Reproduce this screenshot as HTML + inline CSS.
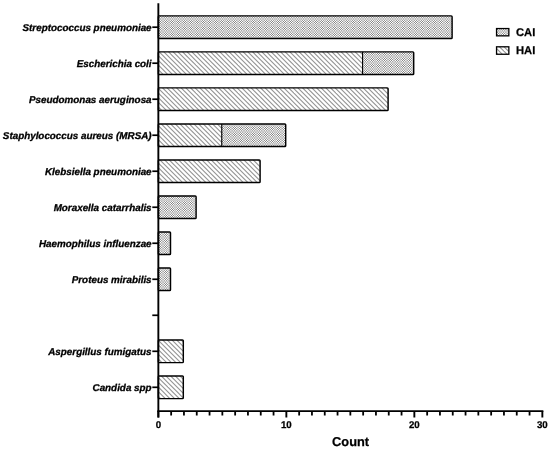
<!DOCTYPE html>
<html><head><meta charset="utf-8"><title>Count</title>
<style>html,body{margin:0;padding:0;background:#fff}svg{display:block}
text{font-family:"Liberation Sans",Arial,sans-serif;font-weight:bold;fill:#000;text-rendering:geometricPrecision;stroke:#000;stroke-width:0.25px}
.yl{font-style:italic;font-size:9.85px;text-anchor:end;stroke:#000;stroke-width:0.3px}
.xl{font-size:9.7px;text-anchor:middle}
.lg{font-size:11.2px}
.ti{font-size:12.8px;text-anchor:middle}
</style></head><body>
<svg width="550" height="449" viewBox="0 0 550 449">
<defs>
<pattern id="dots" width="25" height="25" patternUnits="userSpaceOnUse" shape-rendering="crispEdges"><rect x="0" y="0" width="1" height="1" fill="#cdcdcd"/><rect x="0" y="1" width="1" height="1" fill="#c6c6c6"/><rect x="0" y="2" width="1" height="1" fill="#d5d5d5"/><rect x="0" y="3" width="1" height="1" fill="#c2c2c2"/><rect x="0" y="4" width="1" height="1" fill="#d5d5d5"/><rect x="0" y="5" width="1" height="1" fill="#c7c7c7"/><rect x="0" y="6" width="1" height="1" fill="#cccccc"/><rect x="0" y="7" width="1" height="1" fill="#d1d1d1"/><rect x="0" y="8" width="1" height="1" fill="#c3c3c3"/><rect x="0" y="9" width="1" height="1" fill="#d6d6d6"/><rect x="0" y="10" width="1" height="1" fill="#c3c3c3"/><rect x="0" y="11" width="1" height="1" fill="#d2d2d2"/><rect x="0" y="12" width="1" height="1" fill="#cbcbcb"/><rect x="0" y="13" width="1" height="1" fill="#c8c8c8"/><rect x="0" y="14" width="1" height="1" fill="#d4d4d4"/><rect x="0" y="15" width="1" height="1" fill="#c2c2c2"/><rect x="0" y="16" width="1" height="1" fill="#d6d6d6"/><rect x="0" y="17" width="1" height="1" fill="#c5c5c5"/><rect x="0" y="18" width="1" height="1" fill="#cfcfcf"/><rect x="0" y="19" width="1" height="1" fill="#cfcfcf"/><rect x="0" y="20" width="1" height="1" fill="#c5c5c5"/><rect x="0" y="21" width="1" height="1" fill="#d6d6d6"/><rect x="0" y="22" width="1" height="1" fill="#c2c2c2"/><rect x="0" y="23" width="1" height="1" fill="#d4d4d4"/><rect x="0" y="24" width="1" height="1" fill="#c8c8c8"/><rect x="1" y="0" width="1" height="1" fill="#c6c6c6"/><rect x="1" y="1" width="1" height="1" fill="#e8e8e8"/><rect x="1" y="2" width="1" height="1" fill="#a0a0a0"/><rect x="1" y="3" width="1" height="1" fill="#fcfcfc"/><rect x="1" y="4" width="1" height="1" fill="#a3a3a3"/><rect x="1" y="5" width="1" height="1" fill="#e3e3e3"/><rect x="1" y="6" width="1" height="1" fill="#cccccc"/><rect x="1" y="7" width="1" height="1" fill="#b5b5b5"/><rect x="1" y="8" width="1" height="1" fill="#f5f5f5"/><rect x="1" y="9" width="1" height="1" fill="#9c9c9c"/><rect x="1" y="10" width="1" height="1" fill="#f8f8f8"/><rect x="1" y="11" width="1" height="1" fill="#b0b0b0"/><rect x="1" y="12" width="1" height="1" fill="#d2d2d2"/><rect x="1" y="13" width="1" height="1" fill="#dedede"/><rect x="1" y="14" width="1" height="1" fill="#a7a7a7"/><rect x="1" y="15" width="1" height="1" fill="#fbfbfb"/><rect x="1" y="16" width="1" height="1" fill="#9e9e9e"/><rect x="1" y="17" width="1" height="1" fill="#ededed"/><rect x="1" y="18" width="1" height="1" fill="#c0c0c0"/><rect x="1" y="19" width="1" height="1" fill="#c0c0c0"/><rect x="1" y="20" width="1" height="1" fill="#ededed"/><rect x="1" y="21" width="1" height="1" fill="#9e9e9e"/><rect x="1" y="22" width="1" height="1" fill="#fbfbfb"/><rect x="1" y="23" width="1" height="1" fill="#a7a7a7"/><rect x="1" y="24" width="1" height="1" fill="#dedede"/><rect x="2" y="0" width="1" height="1" fill="#d5d5d5"/><rect x="2" y="1" width="1" height="1" fill="#a0a0a0"/><rect x="2" y="2" width="1" height="1" fill="#ffffff"/><rect x="2" y="3" width="1" height="1" fill="#828282"/><rect x="2" y="4" width="1" height="1" fill="#ffffff"/><rect x="2" y="5" width="1" height="1" fill="#a8a8a8"/><rect x="2" y="6" width="1" height="1" fill="#cccccc"/><rect x="2" y="7" width="1" height="1" fill="#f0f0f0"/><rect x="2" y="8" width="1" height="1" fill="#8d8d8d"/><rect x="2" y="9" width="1" height="1" fill="#ffffff"/><rect x="2" y="10" width="1" height="1" fill="#898989"/><rect x="2" y="11" width="1" height="1" fill="#f8f8f8"/><rect x="2" y="12" width="1" height="1" fill="#c3c3c3"/><rect x="2" y="13" width="1" height="1" fill="#b1b1b1"/><rect x="2" y="14" width="1" height="1" fill="#ffffff"/><rect x="2" y="15" width="1" height="1" fill="#838383"/><rect x="2" y="16" width="1" height="1" fill="#ffffff"/><rect x="2" y="17" width="1" height="1" fill="#999999"/><rect x="2" y="18" width="1" height="1" fill="#dedede"/><rect x="2" y="19" width="1" height="1" fill="#dedede"/><rect x="2" y="20" width="1" height="1" fill="#999999"/><rect x="2" y="21" width="1" height="1" fill="#ffffff"/><rect x="2" y="22" width="1" height="1" fill="#838383"/><rect x="2" y="23" width="1" height="1" fill="#ffffff"/><rect x="2" y="24" width="1" height="1" fill="#b1b1b1"/><rect x="3" y="0" width="1" height="1" fill="#c2c2c2"/><rect x="3" y="1" width="1" height="1" fill="#fcfcfc"/><rect x="3" y="2" width="1" height="1" fill="#828282"/><rect x="3" y="3" width="1" height="1" fill="#ffffff"/><rect x="3" y="4" width="1" height="1" fill="#878787"/><rect x="3" y="5" width="1" height="1" fill="#f3f3f3"/><rect x="3" y="6" width="1" height="1" fill="#cccccc"/><rect x="3" y="7" width="1" height="1" fill="#a5a5a5"/><rect x="3" y="8" width="1" height="1" fill="#ffffff"/><rect x="3" y="9" width="1" height="1" fill="#7a7a7a"/><rect x="3" y="10" width="1" height="1" fill="#ffffff"/><rect x="3" y="11" width="1" height="1" fill="#9c9c9c"/><rect x="3" y="12" width="1" height="1" fill="#d6d6d6"/><rect x="3" y="13" width="1" height="1" fill="#eaeaea"/><rect x="3" y="14" width="1" height="1" fill="#8d8d8d"/><rect x="3" y="15" width="1" height="1" fill="#ffffff"/><rect x="3" y="16" width="1" height="1" fill="#7e7e7e"/><rect x="3" y="17" width="1" height="1" fill="#ffffff"/><rect x="3" y="18" width="1" height="1" fill="#b8b8b8"/><rect x="3" y="19" width="1" height="1" fill="#b8b8b8"/><rect x="3" y="20" width="1" height="1" fill="#ffffff"/><rect x="3" y="21" width="1" height="1" fill="#7e7e7e"/><rect x="3" y="22" width="1" height="1" fill="#ffffff"/><rect x="3" y="23" width="1" height="1" fill="#8d8d8d"/><rect x="3" y="24" width="1" height="1" fill="#eaeaea"/><rect x="4" y="0" width="1" height="1" fill="#d5d5d5"/><rect x="4" y="1" width="1" height="1" fill="#a3a3a3"/><rect x="4" y="2" width="1" height="1" fill="#ffffff"/><rect x="4" y="3" width="1" height="1" fill="#878787"/><rect x="4" y="4" width="1" height="1" fill="#ffffff"/><rect x="4" y="5" width="1" height="1" fill="#ababab"/><rect x="4" y="6" width="1" height="1" fill="#cccccc"/><rect x="4" y="7" width="1" height="1" fill="#ededed"/><rect x="4" y="8" width="1" height="1" fill="#929292"/><rect x="4" y="9" width="1" height="1" fill="#ffffff"/><rect x="4" y="10" width="1" height="1" fill="#8d8d8d"/><rect x="4" y="11" width="1" height="1" fill="#f5f5f5"/><rect x="4" y="12" width="1" height="1" fill="#c3c3c3"/><rect x="4" y="13" width="1" height="1" fill="#b3b3b3"/><rect x="4" y="14" width="1" height="1" fill="#ffffff"/><rect x="4" y="15" width="1" height="1" fill="#888888"/><rect x="4" y="16" width="1" height="1" fill="#ffffff"/><rect x="4" y="17" width="1" height="1" fill="#9d9d9d"/><rect x="4" y="18" width="1" height="1" fill="#dddddd"/><rect x="4" y="19" width="1" height="1" fill="#dddddd"/><rect x="4" y="20" width="1" height="1" fill="#9d9d9d"/><rect x="4" y="21" width="1" height="1" fill="#ffffff"/><rect x="4" y="22" width="1" height="1" fill="#888888"/><rect x="4" y="23" width="1" height="1" fill="#ffffff"/><rect x="4" y="24" width="1" height="1" fill="#b3b3b3"/><rect x="5" y="0" width="1" height="1" fill="#c7c7c7"/><rect x="5" y="1" width="1" height="1" fill="#e3e3e3"/><rect x="5" y="2" width="1" height="1" fill="#a8a8a8"/><rect x="5" y="3" width="1" height="1" fill="#f3f3f3"/><rect x="5" y="4" width="1" height="1" fill="#ababab"/><rect x="5" y="5" width="1" height="1" fill="#dfdfdf"/><rect x="5" y="6" width="1" height="1" fill="#cccccc"/><rect x="5" y="7" width="1" height="1" fill="#b9b9b9"/><rect x="5" y="8" width="1" height="1" fill="#ededed"/><rect x="5" y="9" width="1" height="1" fill="#a5a5a5"/><rect x="5" y="10" width="1" height="1" fill="#f0f0f0"/><rect x="5" y="11" width="1" height="1" fill="#b5b5b5"/><rect x="5" y="12" width="1" height="1" fill="#d1d1d1"/><rect x="5" y="13" width="1" height="1" fill="#dbdbdb"/><rect x="5" y="14" width="1" height="1" fill="#aeaeae"/><rect x="5" y="15" width="1" height="1" fill="#f3f3f3"/><rect x="5" y="16" width="1" height="1" fill="#a6a6a6"/><rect x="5" y="17" width="1" height="1" fill="#e7e7e7"/><rect x="5" y="18" width="1" height="1" fill="#c2c2c2"/><rect x="5" y="19" width="1" height="1" fill="#c2c2c2"/><rect x="5" y="20" width="1" height="1" fill="#e7e7e7"/><rect x="5" y="21" width="1" height="1" fill="#a6a6a6"/><rect x="5" y="22" width="1" height="1" fill="#f3f3f3"/><rect x="5" y="23" width="1" height="1" fill="#aeaeae"/><rect x="5" y="24" width="1" height="1" fill="#dbdbdb"/><rect x="6" y="0" width="1" height="1" fill="#cccccc"/><rect x="6" y="1" width="1" height="1" fill="#cccccc"/><rect x="6" y="2" width="1" height="1" fill="#cccccc"/><rect x="6" y="3" width="1" height="1" fill="#cccccc"/><rect x="6" y="4" width="1" height="1" fill="#cccccc"/><rect x="6" y="5" width="1" height="1" fill="#cccccc"/><rect x="6" y="6" width="1" height="1" fill="#cccccc"/><rect x="6" y="7" width="1" height="1" fill="#cccccc"/><rect x="6" y="8" width="1" height="1" fill="#cccccc"/><rect x="6" y="9" width="1" height="1" fill="#cccccc"/><rect x="6" y="10" width="1" height="1" fill="#cccccc"/><rect x="6" y="11" width="1" height="1" fill="#cccccc"/><rect x="6" y="12" width="1" height="1" fill="#cccccc"/><rect x="6" y="13" width="1" height="1" fill="#cccccc"/><rect x="6" y="14" width="1" height="1" fill="#cccccc"/><rect x="6" y="15" width="1" height="1" fill="#cccccc"/><rect x="6" y="16" width="1" height="1" fill="#cccccc"/><rect x="6" y="17" width="1" height="1" fill="#cccccc"/><rect x="6" y="18" width="1" height="1" fill="#cccccc"/><rect x="6" y="19" width="1" height="1" fill="#cccccc"/><rect x="6" y="20" width="1" height="1" fill="#cccccc"/><rect x="6" y="21" width="1" height="1" fill="#cccccc"/><rect x="6" y="22" width="1" height="1" fill="#cccccc"/><rect x="6" y="23" width="1" height="1" fill="#cccccc"/><rect x="6" y="24" width="1" height="1" fill="#cccccc"/><rect x="7" y="0" width="1" height="1" fill="#d1d1d1"/><rect x="7" y="1" width="1" height="1" fill="#b5b5b5"/><rect x="7" y="2" width="1" height="1" fill="#f0f0f0"/><rect x="7" y="3" width="1" height="1" fill="#a5a5a5"/><rect x="7" y="4" width="1" height="1" fill="#ededed"/><rect x="7" y="5" width="1" height="1" fill="#b9b9b9"/><rect x="7" y="6" width="1" height="1" fill="#cccccc"/><rect x="7" y="7" width="1" height="1" fill="#dfdfdf"/><rect x="7" y="8" width="1" height="1" fill="#ababab"/><rect x="7" y="9" width="1" height="1" fill="#f3f3f3"/><rect x="7" y="10" width="1" height="1" fill="#a8a8a8"/><rect x="7" y="11" width="1" height="1" fill="#e3e3e3"/><rect x="7" y="12" width="1" height="1" fill="#c7c7c7"/><rect x="7" y="13" width="1" height="1" fill="#bdbdbd"/><rect x="7" y="14" width="1" height="1" fill="#eaeaea"/><rect x="7" y="15" width="1" height="1" fill="#a5a5a5"/><rect x="7" y="16" width="1" height="1" fill="#f2f2f2"/><rect x="7" y="17" width="1" height="1" fill="#b1b1b1"/><rect x="7" y="18" width="1" height="1" fill="#d6d6d6"/><rect x="7" y="19" width="1" height="1" fill="#d6d6d6"/><rect x="7" y="20" width="1" height="1" fill="#b1b1b1"/><rect x="7" y="21" width="1" height="1" fill="#f2f2f2"/><rect x="7" y="22" width="1" height="1" fill="#a5a5a5"/><rect x="7" y="23" width="1" height="1" fill="#eaeaea"/><rect x="7" y="24" width="1" height="1" fill="#bdbdbd"/><rect x="8" y="0" width="1" height="1" fill="#c3c3c3"/><rect x="8" y="1" width="1" height="1" fill="#f5f5f5"/><rect x="8" y="2" width="1" height="1" fill="#8d8d8d"/><rect x="8" y="3" width="1" height="1" fill="#ffffff"/><rect x="8" y="4" width="1" height="1" fill="#929292"/><rect x="8" y="5" width="1" height="1" fill="#ededed"/><rect x="8" y="6" width="1" height="1" fill="#cccccc"/><rect x="8" y="7" width="1" height="1" fill="#ababab"/><rect x="8" y="8" width="1" height="1" fill="#ffffff"/><rect x="8" y="9" width="1" height="1" fill="#878787"/><rect x="8" y="10" width="1" height="1" fill="#ffffff"/><rect x="8" y="11" width="1" height="1" fill="#a3a3a3"/><rect x="8" y="12" width="1" height="1" fill="#d5d5d5"/><rect x="8" y="13" width="1" height="1" fill="#e5e5e5"/><rect x="8" y="14" width="1" height="1" fill="#979797"/><rect x="8" y="15" width="1" height="1" fill="#ffffff"/><rect x="8" y="16" width="1" height="1" fill="#8a8a8a"/><rect x="8" y="17" width="1" height="1" fill="#fbfbfb"/><rect x="8" y="18" width="1" height="1" fill="#bbbbbb"/><rect x="8" y="19" width="1" height="1" fill="#bbbbbb"/><rect x="8" y="20" width="1" height="1" fill="#fbfbfb"/><rect x="8" y="21" width="1" height="1" fill="#8a8a8a"/><rect x="8" y="22" width="1" height="1" fill="#ffffff"/><rect x="8" y="23" width="1" height="1" fill="#979797"/><rect x="8" y="24" width="1" height="1" fill="#e5e5e5"/><rect x="9" y="0" width="1" height="1" fill="#d6d6d6"/><rect x="9" y="1" width="1" height="1" fill="#9c9c9c"/><rect x="9" y="2" width="1" height="1" fill="#ffffff"/><rect x="9" y="3" width="1" height="1" fill="#7a7a7a"/><rect x="9" y="4" width="1" height="1" fill="#ffffff"/><rect x="9" y="5" width="1" height="1" fill="#a5a5a5"/><rect x="9" y="6" width="1" height="1" fill="#cccccc"/><rect x="9" y="7" width="1" height="1" fill="#f3f3f3"/><rect x="9" y="8" width="1" height="1" fill="#878787"/><rect x="9" y="9" width="1" height="1" fill="#ffffff"/><rect x="9" y="10" width="1" height="1" fill="#828282"/><rect x="9" y="11" width="1" height="1" fill="#fcfcfc"/><rect x="9" y="12" width="1" height="1" fill="#c2c2c2"/><rect x="9" y="13" width="1" height="1" fill="#aeaeae"/><rect x="9" y="14" width="1" height="1" fill="#ffffff"/><rect x="9" y="15" width="1" height="1" fill="#7c7c7c"/><rect x="9" y="16" width="1" height="1" fill="#ffffff"/><rect x="9" y="17" width="1" height="1" fill="#949494"/><rect x="9" y="18" width="1" height="1" fill="#e0e0e0"/><rect x="9" y="19" width="1" height="1" fill="#e0e0e0"/><rect x="9" y="20" width="1" height="1" fill="#949494"/><rect x="9" y="21" width="1" height="1" fill="#ffffff"/><rect x="9" y="22" width="1" height="1" fill="#7c7c7c"/><rect x="9" y="23" width="1" height="1" fill="#ffffff"/><rect x="9" y="24" width="1" height="1" fill="#aeaeae"/><rect x="10" y="0" width="1" height="1" fill="#c3c3c3"/><rect x="10" y="1" width="1" height="1" fill="#f8f8f8"/><rect x="10" y="2" width="1" height="1" fill="#898989"/><rect x="10" y="3" width="1" height="1" fill="#ffffff"/><rect x="10" y="4" width="1" height="1" fill="#8d8d8d"/><rect x="10" y="5" width="1" height="1" fill="#f0f0f0"/><rect x="10" y="6" width="1" height="1" fill="#cccccc"/><rect x="10" y="7" width="1" height="1" fill="#a8a8a8"/><rect x="10" y="8" width="1" height="1" fill="#ffffff"/><rect x="10" y="9" width="1" height="1" fill="#828282"/><rect x="10" y="10" width="1" height="1" fill="#ffffff"/><rect x="10" y="11" width="1" height="1" fill="#a0a0a0"/><rect x="10" y="12" width="1" height="1" fill="#d5d5d5"/><rect x="10" y="13" width="1" height="1" fill="#e7e7e7"/><rect x="10" y="14" width="1" height="1" fill="#939393"/><rect x="10" y="15" width="1" height="1" fill="#ffffff"/><rect x="10" y="16" width="1" height="1" fill="#858585"/><rect x="10" y="17" width="1" height="1" fill="#ffffff"/><rect x="10" y="18" width="1" height="1" fill="#bababa"/><rect x="10" y="19" width="1" height="1" fill="#bababa"/><rect x="10" y="20" width="1" height="1" fill="#ffffff"/><rect x="10" y="21" width="1" height="1" fill="#858585"/><rect x="10" y="22" width="1" height="1" fill="#ffffff"/><rect x="10" y="23" width="1" height="1" fill="#939393"/><rect x="10" y="24" width="1" height="1" fill="#e7e7e7"/><rect x="11" y="0" width="1" height="1" fill="#d2d2d2"/><rect x="11" y="1" width="1" height="1" fill="#b0b0b0"/><rect x="11" y="2" width="1" height="1" fill="#f8f8f8"/><rect x="11" y="3" width="1" height="1" fill="#9c9c9c"/><rect x="11" y="4" width="1" height="1" fill="#f5f5f5"/><rect x="11" y="5" width="1" height="1" fill="#b5b5b5"/><rect x="11" y="6" width="1" height="1" fill="#cccccc"/><rect x="11" y="7" width="1" height="1" fill="#e3e3e3"/><rect x="11" y="8" width="1" height="1" fill="#a3a3a3"/><rect x="11" y="9" width="1" height="1" fill="#fcfcfc"/><rect x="11" y="10" width="1" height="1" fill="#a0a0a0"/><rect x="11" y="11" width="1" height="1" fill="#e8e8e8"/><rect x="11" y="12" width="1" height="1" fill="#c6c6c6"/><rect x="11" y="13" width="1" height="1" fill="#bababa"/><rect x="11" y="14" width="1" height="1" fill="#f1f1f1"/><rect x="11" y="15" width="1" height="1" fill="#9d9d9d"/><rect x="11" y="16" width="1" height="1" fill="#fafafa"/><rect x="11" y="17" width="1" height="1" fill="#ababab"/><rect x="11" y="18" width="1" height="1" fill="#d8d8d8"/><rect x="11" y="19" width="1" height="1" fill="#d8d8d8"/><rect x="11" y="20" width="1" height="1" fill="#ababab"/><rect x="11" y="21" width="1" height="1" fill="#fafafa"/><rect x="11" y="22" width="1" height="1" fill="#9d9d9d"/><rect x="11" y="23" width="1" height="1" fill="#f1f1f1"/><rect x="11" y="24" width="1" height="1" fill="#bababa"/><rect x="12" y="0" width="1" height="1" fill="#cbcbcb"/><rect x="12" y="1" width="1" height="1" fill="#d2d2d2"/><rect x="12" y="2" width="1" height="1" fill="#c3c3c3"/><rect x="12" y="3" width="1" height="1" fill="#d6d6d6"/><rect x="12" y="4" width="1" height="1" fill="#c3c3c3"/><rect x="12" y="5" width="1" height="1" fill="#d1d1d1"/><rect x="12" y="6" width="1" height="1" fill="#cccccc"/><rect x="12" y="7" width="1" height="1" fill="#c7c7c7"/><rect x="12" y="8" width="1" height="1" fill="#d5d5d5"/><rect x="12" y="9" width="1" height="1" fill="#c2c2c2"/><rect x="12" y="10" width="1" height="1" fill="#d5d5d5"/><rect x="12" y="11" width="1" height="1" fill="#c6c6c6"/><rect x="12" y="12" width="1" height="1" fill="#cdcdcd"/><rect x="12" y="13" width="1" height="1" fill="#d0d0d0"/><rect x="12" y="14" width="1" height="1" fill="#c4c4c4"/><rect x="12" y="15" width="1" height="1" fill="#d6d6d6"/><rect x="12" y="16" width="1" height="1" fill="#c2c2c2"/><rect x="12" y="17" width="1" height="1" fill="#d3d3d3"/><rect x="12" y="18" width="1" height="1" fill="#c9c9c9"/><rect x="12" y="19" width="1" height="1" fill="#c9c9c9"/><rect x="12" y="20" width="1" height="1" fill="#d3d3d3"/><rect x="12" y="21" width="1" height="1" fill="#c2c2c2"/><rect x="12" y="22" width="1" height="1" fill="#d6d6d6"/><rect x="12" y="23" width="1" height="1" fill="#c4c4c4"/><rect x="12" y="24" width="1" height="1" fill="#d0d0d0"/><rect x="13" y="0" width="1" height="1" fill="#c8c8c8"/><rect x="13" y="1" width="1" height="1" fill="#dedede"/><rect x="13" y="2" width="1" height="1" fill="#b1b1b1"/><rect x="13" y="3" width="1" height="1" fill="#eaeaea"/><rect x="13" y="4" width="1" height="1" fill="#b3b3b3"/><rect x="13" y="5" width="1" height="1" fill="#dbdbdb"/><rect x="13" y="6" width="1" height="1" fill="#cccccc"/><rect x="13" y="7" width="1" height="1" fill="#bdbdbd"/><rect x="13" y="8" width="1" height="1" fill="#e5e5e5"/><rect x="13" y="9" width="1" height="1" fill="#aeaeae"/><rect x="13" y="10" width="1" height="1" fill="#e7e7e7"/><rect x="13" y="11" width="1" height="1" fill="#bababa"/><rect x="13" y="12" width="1" height="1" fill="#d0d0d0"/><rect x="13" y="13" width="1" height="1" fill="#d7d7d7"/><rect x="13" y="14" width="1" height="1" fill="#b5b5b5"/><rect x="13" y="15" width="1" height="1" fill="#eaeaea"/><rect x="13" y="16" width="1" height="1" fill="#afafaf"/><rect x="13" y="17" width="1" height="1" fill="#e1e1e1"/><rect x="13" y="18" width="1" height="1" fill="#c4c4c4"/><rect x="13" y="19" width="1" height="1" fill="#c4c4c4"/><rect x="13" y="20" width="1" height="1" fill="#e1e1e1"/><rect x="13" y="21" width="1" height="1" fill="#afafaf"/><rect x="13" y="22" width="1" height="1" fill="#eaeaea"/><rect x="13" y="23" width="1" height="1" fill="#b5b5b5"/><rect x="13" y="24" width="1" height="1" fill="#d7d7d7"/><rect x="14" y="0" width="1" height="1" fill="#d4d4d4"/><rect x="14" y="1" width="1" height="1" fill="#a7a7a7"/><rect x="14" y="2" width="1" height="1" fill="#ffffff"/><rect x="14" y="3" width="1" height="1" fill="#8d8d8d"/><rect x="14" y="4" width="1" height="1" fill="#ffffff"/><rect x="14" y="5" width="1" height="1" fill="#aeaeae"/><rect x="14" y="6" width="1" height="1" fill="#cccccc"/><rect x="14" y="7" width="1" height="1" fill="#eaeaea"/><rect x="14" y="8" width="1" height="1" fill="#979797"/><rect x="14" y="9" width="1" height="1" fill="#ffffff"/><rect x="14" y="10" width="1" height="1" fill="#939393"/><rect x="14" y="11" width="1" height="1" fill="#f1f1f1"/><rect x="14" y="12" width="1" height="1" fill="#c4c4c4"/><rect x="14" y="13" width="1" height="1" fill="#b5b5b5"/><rect x="14" y="14" width="1" height="1" fill="#fdfdfd"/><rect x="14" y="15" width="1" height="1" fill="#8e8e8e"/><rect x="14" y="16" width="1" height="1" fill="#ffffff"/><rect x="14" y="17" width="1" height="1" fill="#a1a1a1"/><rect x="14" y="18" width="1" height="1" fill="#dcdcdc"/><rect x="14" y="19" width="1" height="1" fill="#dcdcdc"/><rect x="14" y="20" width="1" height="1" fill="#a1a1a1"/><rect x="14" y="21" width="1" height="1" fill="#ffffff"/><rect x="14" y="22" width="1" height="1" fill="#8e8e8e"/><rect x="14" y="23" width="1" height="1" fill="#fdfdfd"/><rect x="14" y="24" width="1" height="1" fill="#b5b5b5"/><rect x="15" y="0" width="1" height="1" fill="#c2c2c2"/><rect x="15" y="1" width="1" height="1" fill="#fbfbfb"/><rect x="15" y="2" width="1" height="1" fill="#838383"/><rect x="15" y="3" width="1" height="1" fill="#ffffff"/><rect x="15" y="4" width="1" height="1" fill="#888888"/><rect x="15" y="5" width="1" height="1" fill="#f3f3f3"/><rect x="15" y="6" width="1" height="1" fill="#cccccc"/><rect x="15" y="7" width="1" height="1" fill="#a5a5a5"/><rect x="15" y="8" width="1" height="1" fill="#ffffff"/><rect x="15" y="9" width="1" height="1" fill="#7c7c7c"/><rect x="15" y="10" width="1" height="1" fill="#ffffff"/><rect x="15" y="11" width="1" height="1" fill="#9d9d9d"/><rect x="15" y="12" width="1" height="1" fill="#d6d6d6"/><rect x="15" y="13" width="1" height="1" fill="#eaeaea"/><rect x="15" y="14" width="1" height="1" fill="#8e8e8e"/><rect x="15" y="15" width="1" height="1" fill="#ffffff"/><rect x="15" y="16" width="1" height="1" fill="#7f7f7f"/><rect x="15" y="17" width="1" height="1" fill="#ffffff"/><rect x="15" y="18" width="1" height="1" fill="#b8b8b8"/><rect x="15" y="19" width="1" height="1" fill="#b8b8b8"/><rect x="15" y="20" width="1" height="1" fill="#ffffff"/><rect x="15" y="21" width="1" height="1" fill="#7f7f7f"/><rect x="15" y="22" width="1" height="1" fill="#ffffff"/><rect x="15" y="23" width="1" height="1" fill="#8e8e8e"/><rect x="15" y="24" width="1" height="1" fill="#eaeaea"/><rect x="16" y="0" width="1" height="1" fill="#d6d6d6"/><rect x="16" y="1" width="1" height="1" fill="#9e9e9e"/><rect x="16" y="2" width="1" height="1" fill="#ffffff"/><rect x="16" y="3" width="1" height="1" fill="#7e7e7e"/><rect x="16" y="4" width="1" height="1" fill="#ffffff"/><rect x="16" y="5" width="1" height="1" fill="#a6a6a6"/><rect x="16" y="6" width="1" height="1" fill="#cccccc"/><rect x="16" y="7" width="1" height="1" fill="#f2f2f2"/><rect x="16" y="8" width="1" height="1" fill="#8a8a8a"/><rect x="16" y="9" width="1" height="1" fill="#ffffff"/><rect x="16" y="10" width="1" height="1" fill="#858585"/><rect x="16" y="11" width="1" height="1" fill="#fafafa"/><rect x="16" y="12" width="1" height="1" fill="#c2c2c2"/><rect x="16" y="13" width="1" height="1" fill="#afafaf"/><rect x="16" y="14" width="1" height="1" fill="#ffffff"/><rect x="16" y="15" width="1" height="1" fill="#7f7f7f"/><rect x="16" y="16" width="1" height="1" fill="#ffffff"/><rect x="16" y="17" width="1" height="1" fill="#979797"/><rect x="16" y="18" width="1" height="1" fill="#dfdfdf"/><rect x="16" y="19" width="1" height="1" fill="#dfdfdf"/><rect x="16" y="20" width="1" height="1" fill="#979797"/><rect x="16" y="21" width="1" height="1" fill="#ffffff"/><rect x="16" y="22" width="1" height="1" fill="#7f7f7f"/><rect x="16" y="23" width="1" height="1" fill="#ffffff"/><rect x="16" y="24" width="1" height="1" fill="#afafaf"/><rect x="17" y="0" width="1" height="1" fill="#c5c5c5"/><rect x="17" y="1" width="1" height="1" fill="#ededed"/><rect x="17" y="2" width="1" height="1" fill="#999999"/><rect x="17" y="3" width="1" height="1" fill="#ffffff"/><rect x="17" y="4" width="1" height="1" fill="#9d9d9d"/><rect x="17" y="5" width="1" height="1" fill="#e7e7e7"/><rect x="17" y="6" width="1" height="1" fill="#cccccc"/><rect x="17" y="7" width="1" height="1" fill="#b1b1b1"/><rect x="17" y="8" width="1" height="1" fill="#fbfbfb"/><rect x="17" y="9" width="1" height="1" fill="#949494"/><rect x="17" y="10" width="1" height="1" fill="#ffffff"/><rect x="17" y="11" width="1" height="1" fill="#ababab"/><rect x="17" y="12" width="1" height="1" fill="#d3d3d3"/><rect x="17" y="13" width="1" height="1" fill="#e1e1e1"/><rect x="17" y="14" width="1" height="1" fill="#a1a1a1"/><rect x="17" y="15" width="1" height="1" fill="#ffffff"/><rect x="17" y="16" width="1" height="1" fill="#979797"/><rect x="17" y="17" width="1" height="1" fill="#f2f2f2"/><rect x="17" y="18" width="1" height="1" fill="#bebebe"/><rect x="17" y="19" width="1" height="1" fill="#bebebe"/><rect x="17" y="20" width="1" height="1" fill="#f2f2f2"/><rect x="17" y="21" width="1" height="1" fill="#979797"/><rect x="17" y="22" width="1" height="1" fill="#ffffff"/><rect x="17" y="23" width="1" height="1" fill="#a1a1a1"/><rect x="17" y="24" width="1" height="1" fill="#e1e1e1"/><rect x="18" y="0" width="1" height="1" fill="#cfcfcf"/><rect x="18" y="1" width="1" height="1" fill="#c0c0c0"/><rect x="18" y="2" width="1" height="1" fill="#dedede"/><rect x="18" y="3" width="1" height="1" fill="#b8b8b8"/><rect x="18" y="4" width="1" height="1" fill="#dddddd"/><rect x="18" y="5" width="1" height="1" fill="#c2c2c2"/><rect x="18" y="6" width="1" height="1" fill="#cccccc"/><rect x="18" y="7" width="1" height="1" fill="#d6d6d6"/><rect x="18" y="8" width="1" height="1" fill="#bbbbbb"/><rect x="18" y="9" width="1" height="1" fill="#e0e0e0"/><rect x="18" y="10" width="1" height="1" fill="#bababa"/><rect x="18" y="11" width="1" height="1" fill="#d8d8d8"/><rect x="18" y="12" width="1" height="1" fill="#c9c9c9"/><rect x="18" y="13" width="1" height="1" fill="#c4c4c4"/><rect x="18" y="14" width="1" height="1" fill="#dcdcdc"/><rect x="18" y="15" width="1" height="1" fill="#b8b8b8"/><rect x="18" y="16" width="1" height="1" fill="#dfdfdf"/><rect x="18" y="17" width="1" height="1" fill="#bebebe"/><rect x="18" y="18" width="1" height="1" fill="#d1d1d1"/><rect x="18" y="19" width="1" height="1" fill="#d1d1d1"/><rect x="18" y="20" width="1" height="1" fill="#bebebe"/><rect x="18" y="21" width="1" height="1" fill="#dfdfdf"/><rect x="18" y="22" width="1" height="1" fill="#b8b8b8"/><rect x="18" y="23" width="1" height="1" fill="#dcdcdc"/><rect x="18" y="24" width="1" height="1" fill="#c4c4c4"/><rect x="19" y="0" width="1" height="1" fill="#cfcfcf"/><rect x="19" y="1" width="1" height="1" fill="#c0c0c0"/><rect x="19" y="2" width="1" height="1" fill="#dedede"/><rect x="19" y="3" width="1" height="1" fill="#b8b8b8"/><rect x="19" y="4" width="1" height="1" fill="#dddddd"/><rect x="19" y="5" width="1" height="1" fill="#c2c2c2"/><rect x="19" y="6" width="1" height="1" fill="#cccccc"/><rect x="19" y="7" width="1" height="1" fill="#d6d6d6"/><rect x="19" y="8" width="1" height="1" fill="#bbbbbb"/><rect x="19" y="9" width="1" height="1" fill="#e0e0e0"/><rect x="19" y="10" width="1" height="1" fill="#bababa"/><rect x="19" y="11" width="1" height="1" fill="#d8d8d8"/><rect x="19" y="12" width="1" height="1" fill="#c9c9c9"/><rect x="19" y="13" width="1" height="1" fill="#c4c4c4"/><rect x="19" y="14" width="1" height="1" fill="#dcdcdc"/><rect x="19" y="15" width="1" height="1" fill="#b8b8b8"/><rect x="19" y="16" width="1" height="1" fill="#dfdfdf"/><rect x="19" y="17" width="1" height="1" fill="#bebebe"/><rect x="19" y="18" width="1" height="1" fill="#d1d1d1"/><rect x="19" y="19" width="1" height="1" fill="#d1d1d1"/><rect x="19" y="20" width="1" height="1" fill="#bebebe"/><rect x="19" y="21" width="1" height="1" fill="#dfdfdf"/><rect x="19" y="22" width="1" height="1" fill="#b8b8b8"/><rect x="19" y="23" width="1" height="1" fill="#dcdcdc"/><rect x="19" y="24" width="1" height="1" fill="#c4c4c4"/><rect x="20" y="0" width="1" height="1" fill="#c5c5c5"/><rect x="20" y="1" width="1" height="1" fill="#ededed"/><rect x="20" y="2" width="1" height="1" fill="#999999"/><rect x="20" y="3" width="1" height="1" fill="#ffffff"/><rect x="20" y="4" width="1" height="1" fill="#9d9d9d"/><rect x="20" y="5" width="1" height="1" fill="#e7e7e7"/><rect x="20" y="6" width="1" height="1" fill="#cccccc"/><rect x="20" y="7" width="1" height="1" fill="#b1b1b1"/><rect x="20" y="8" width="1" height="1" fill="#fbfbfb"/><rect x="20" y="9" width="1" height="1" fill="#949494"/><rect x="20" y="10" width="1" height="1" fill="#ffffff"/><rect x="20" y="11" width="1" height="1" fill="#ababab"/><rect x="20" y="12" width="1" height="1" fill="#d3d3d3"/><rect x="20" y="13" width="1" height="1" fill="#e1e1e1"/><rect x="20" y="14" width="1" height="1" fill="#a1a1a1"/><rect x="20" y="15" width="1" height="1" fill="#ffffff"/><rect x="20" y="16" width="1" height="1" fill="#979797"/><rect x="20" y="17" width="1" height="1" fill="#f2f2f2"/><rect x="20" y="18" width="1" height="1" fill="#bebebe"/><rect x="20" y="19" width="1" height="1" fill="#bebebe"/><rect x="20" y="20" width="1" height="1" fill="#f2f2f2"/><rect x="20" y="21" width="1" height="1" fill="#979797"/><rect x="20" y="22" width="1" height="1" fill="#ffffff"/><rect x="20" y="23" width="1" height="1" fill="#a1a1a1"/><rect x="20" y="24" width="1" height="1" fill="#e1e1e1"/><rect x="21" y="0" width="1" height="1" fill="#d6d6d6"/><rect x="21" y="1" width="1" height="1" fill="#9e9e9e"/><rect x="21" y="2" width="1" height="1" fill="#ffffff"/><rect x="21" y="3" width="1" height="1" fill="#7e7e7e"/><rect x="21" y="4" width="1" height="1" fill="#ffffff"/><rect x="21" y="5" width="1" height="1" fill="#a6a6a6"/><rect x="21" y="6" width="1" height="1" fill="#cccccc"/><rect x="21" y="7" width="1" height="1" fill="#f2f2f2"/><rect x="21" y="8" width="1" height="1" fill="#8a8a8a"/><rect x="21" y="9" width="1" height="1" fill="#ffffff"/><rect x="21" y="10" width="1" height="1" fill="#858585"/><rect x="21" y="11" width="1" height="1" fill="#fafafa"/><rect x="21" y="12" width="1" height="1" fill="#c2c2c2"/><rect x="21" y="13" width="1" height="1" fill="#afafaf"/><rect x="21" y="14" width="1" height="1" fill="#ffffff"/><rect x="21" y="15" width="1" height="1" fill="#7f7f7f"/><rect x="21" y="16" width="1" height="1" fill="#ffffff"/><rect x="21" y="17" width="1" height="1" fill="#979797"/><rect x="21" y="18" width="1" height="1" fill="#dfdfdf"/><rect x="21" y="19" width="1" height="1" fill="#dfdfdf"/><rect x="21" y="20" width="1" height="1" fill="#979797"/><rect x="21" y="21" width="1" height="1" fill="#ffffff"/><rect x="21" y="22" width="1" height="1" fill="#7f7f7f"/><rect x="21" y="23" width="1" height="1" fill="#ffffff"/><rect x="21" y="24" width="1" height="1" fill="#afafaf"/><rect x="22" y="0" width="1" height="1" fill="#c2c2c2"/><rect x="22" y="1" width="1" height="1" fill="#fbfbfb"/><rect x="22" y="2" width="1" height="1" fill="#838383"/><rect x="22" y="3" width="1" height="1" fill="#ffffff"/><rect x="22" y="4" width="1" height="1" fill="#888888"/><rect x="22" y="5" width="1" height="1" fill="#f3f3f3"/><rect x="22" y="6" width="1" height="1" fill="#cccccc"/><rect x="22" y="7" width="1" height="1" fill="#a5a5a5"/><rect x="22" y="8" width="1" height="1" fill="#ffffff"/><rect x="22" y="9" width="1" height="1" fill="#7c7c7c"/><rect x="22" y="10" width="1" height="1" fill="#ffffff"/><rect x="22" y="11" width="1" height="1" fill="#9d9d9d"/><rect x="22" y="12" width="1" height="1" fill="#d6d6d6"/><rect x="22" y="13" width="1" height="1" fill="#eaeaea"/><rect x="22" y="14" width="1" height="1" fill="#8e8e8e"/><rect x="22" y="15" width="1" height="1" fill="#ffffff"/><rect x="22" y="16" width="1" height="1" fill="#7f7f7f"/><rect x="22" y="17" width="1" height="1" fill="#ffffff"/><rect x="22" y="18" width="1" height="1" fill="#b8b8b8"/><rect x="22" y="19" width="1" height="1" fill="#b8b8b8"/><rect x="22" y="20" width="1" height="1" fill="#ffffff"/><rect x="22" y="21" width="1" height="1" fill="#7f7f7f"/><rect x="22" y="22" width="1" height="1" fill="#ffffff"/><rect x="22" y="23" width="1" height="1" fill="#8e8e8e"/><rect x="22" y="24" width="1" height="1" fill="#eaeaea"/><rect x="23" y="0" width="1" height="1" fill="#d4d4d4"/><rect x="23" y="1" width="1" height="1" fill="#a7a7a7"/><rect x="23" y="2" width="1" height="1" fill="#ffffff"/><rect x="23" y="3" width="1" height="1" fill="#8d8d8d"/><rect x="23" y="4" width="1" height="1" fill="#ffffff"/><rect x="23" y="5" width="1" height="1" fill="#aeaeae"/><rect x="23" y="6" width="1" height="1" fill="#cccccc"/><rect x="23" y="7" width="1" height="1" fill="#eaeaea"/><rect x="23" y="8" width="1" height="1" fill="#979797"/><rect x="23" y="9" width="1" height="1" fill="#ffffff"/><rect x="23" y="10" width="1" height="1" fill="#939393"/><rect x="23" y="11" width="1" height="1" fill="#f1f1f1"/><rect x="23" y="12" width="1" height="1" fill="#c4c4c4"/><rect x="23" y="13" width="1" height="1" fill="#b5b5b5"/><rect x="23" y="14" width="1" height="1" fill="#fdfdfd"/><rect x="23" y="15" width="1" height="1" fill="#8e8e8e"/><rect x="23" y="16" width="1" height="1" fill="#ffffff"/><rect x="23" y="17" width="1" height="1" fill="#a1a1a1"/><rect x="23" y="18" width="1" height="1" fill="#dcdcdc"/><rect x="23" y="19" width="1" height="1" fill="#dcdcdc"/><rect x="23" y="20" width="1" height="1" fill="#a1a1a1"/><rect x="23" y="21" width="1" height="1" fill="#ffffff"/><rect x="23" y="22" width="1" height="1" fill="#8e8e8e"/><rect x="23" y="23" width="1" height="1" fill="#fdfdfd"/><rect x="23" y="24" width="1" height="1" fill="#b5b5b5"/><rect x="24" y="0" width="1" height="1" fill="#c8c8c8"/><rect x="24" y="1" width="1" height="1" fill="#dedede"/><rect x="24" y="2" width="1" height="1" fill="#b1b1b1"/><rect x="24" y="3" width="1" height="1" fill="#eaeaea"/><rect x="24" y="4" width="1" height="1" fill="#b3b3b3"/><rect x="24" y="5" width="1" height="1" fill="#dbdbdb"/><rect x="24" y="6" width="1" height="1" fill="#cccccc"/><rect x="24" y="7" width="1" height="1" fill="#bdbdbd"/><rect x="24" y="8" width="1" height="1" fill="#e5e5e5"/><rect x="24" y="9" width="1" height="1" fill="#aeaeae"/><rect x="24" y="10" width="1" height="1" fill="#e7e7e7"/><rect x="24" y="11" width="1" height="1" fill="#bababa"/><rect x="24" y="12" width="1" height="1" fill="#d0d0d0"/><rect x="24" y="13" width="1" height="1" fill="#d7d7d7"/><rect x="24" y="14" width="1" height="1" fill="#b5b5b5"/><rect x="24" y="15" width="1" height="1" fill="#eaeaea"/><rect x="24" y="16" width="1" height="1" fill="#afafaf"/><rect x="24" y="17" width="1" height="1" fill="#e1e1e1"/><rect x="24" y="18" width="1" height="1" fill="#c4c4c4"/><rect x="24" y="19" width="1" height="1" fill="#c4c4c4"/><rect x="24" y="20" width="1" height="1" fill="#e1e1e1"/><rect x="24" y="21" width="1" height="1" fill="#afafaf"/><rect x="24" y="22" width="1" height="1" fill="#eaeaea"/><rect x="24" y="23" width="1" height="1" fill="#b5b5b5"/><rect x="24" y="24" width="1" height="1" fill="#d7d7d7"/></pattern>
<pattern id="hatch" width="14" height="14" patternUnits="userSpaceOnUse"><rect width="14" height="14" fill="#fff"/><g stroke="#929292" stroke-width="1.1"><line x1="-2" y1="-20.667" x2="16" y2="-2.667"/><line x1="-2" y1="-16.000" x2="16" y2="2.000"/><line x1="-2" y1="-11.333" x2="16" y2="6.667"/><line x1="-2" y1="-6.667" x2="16" y2="11.333"/><line x1="-2" y1="-2.000" x2="16" y2="16.000"/><line x1="-2" y1="2.667" x2="16" y2="20.667"/><line x1="-2" y1="7.333" x2="16" y2="25.333"/><line x1="-2" y1="12.000" x2="16" y2="30.000"/><line x1="-2" y1="16.667" x2="16" y2="34.667"/></g></pattern>
</defs>
<rect width="550" height="449" fill="#fff"/>

<rect x="158.35" y="15.88" width="293.75" height="22.65" fill="url(#dots)"/>
<rect x="158.35" y="15.88" width="293.75" height="22.65" fill="none" stroke="#000" stroke-width="1.45" rx="0.9" stroke-linejoin="round"/>
<line x1="152.3" x2="158.35" y1="27.20" y2="27.20" stroke="#000" stroke-width="1.7"/>
<text class="yl" transform="translate(151.6 30.70)">Streptococcus pneumoniae</text>
<rect x="158.35" y="51.88" width="204.20" height="22.65" fill="url(#hatch)"/>
<rect x="362.55" y="51.88" width="51.15" height="22.65" fill="url(#dots)"/>
<line x1="362.55" x2="362.55" y1="51.88" y2="74.53" stroke="#000" stroke-width="1.15"/>
<rect x="158.35" y="51.88" width="255.35" height="22.65" fill="none" stroke="#000" stroke-width="1.45" rx="0.9" stroke-linejoin="round"/>
<line x1="152.3" x2="158.35" y1="63.21" y2="63.21" stroke="#000" stroke-width="1.7"/>
<text class="yl" transform="translate(151.6 66.71)">Escherichia coli</text>
<rect x="158.35" y="87.89" width="229.75" height="22.65" fill="url(#hatch)"/>
<rect x="158.35" y="87.89" width="229.75" height="22.65" fill="none" stroke="#000" stroke-width="1.45" rx="0.9" stroke-linejoin="round"/>
<line x1="152.3" x2="158.35" y1="99.22" y2="99.22" stroke="#000" stroke-width="1.7"/>
<text class="yl" transform="translate(151.6 102.72)">Pseudomonas aeruginosa</text>
<rect x="158.35" y="123.90" width="63.40" height="22.65" fill="url(#hatch)"/>
<rect x="221.75" y="123.90" width="63.95" height="22.65" fill="url(#dots)"/>
<line x1="221.75" x2="221.75" y1="123.90" y2="146.55" stroke="#000" stroke-width="1.15"/>
<rect x="158.35" y="123.90" width="127.35" height="22.65" fill="none" stroke="#000" stroke-width="1.45" rx="0.9" stroke-linejoin="round"/>
<line x1="152.3" x2="158.35" y1="135.23" y2="135.23" stroke="#000" stroke-width="1.7"/>
<text class="yl" transform="translate(151.6 138.73)">Staphylococcus aureus (MRSA)</text>
<rect x="158.35" y="159.91" width="101.75" height="22.65" fill="url(#hatch)"/>
<rect x="158.35" y="159.91" width="101.75" height="22.65" fill="none" stroke="#000" stroke-width="1.45" rx="0.9" stroke-linejoin="round"/>
<line x1="152.3" x2="158.35" y1="171.24" y2="171.24" stroke="#000" stroke-width="1.7"/>
<text class="yl" transform="translate(151.6 174.74)">Klebsiella pneumoniae</text>
<rect x="158.35" y="195.92" width="37.75" height="22.65" fill="url(#dots)"/>
<rect x="158.35" y="195.92" width="37.75" height="22.65" fill="none" stroke="#000" stroke-width="1.45" rx="0.9" stroke-linejoin="round"/>
<line x1="152.3" x2="158.35" y1="207.25" y2="207.25" stroke="#000" stroke-width="1.7"/>
<text class="yl" transform="translate(151.6 210.75)">Moraxella catarrhalis</text>
<rect x="158.35" y="231.94" width="12.15" height="22.65" fill="url(#dots)"/>
<rect x="158.35" y="231.94" width="12.15" height="22.65" fill="none" stroke="#000" stroke-width="1.45" rx="0.9" stroke-linejoin="round"/>
<line x1="152.3" x2="158.35" y1="243.26" y2="243.26" stroke="#000" stroke-width="1.7"/>
<text class="yl" transform="translate(151.6 246.76)">Haemophilus influenzae</text>
<rect x="158.35" y="267.94" width="12.15" height="22.65" fill="url(#dots)"/>
<rect x="158.35" y="267.94" width="12.15" height="22.65" fill="none" stroke="#000" stroke-width="1.45" rx="0.9" stroke-linejoin="round"/>
<line x1="152.3" x2="158.35" y1="279.27" y2="279.27" stroke="#000" stroke-width="1.7"/>
<text class="yl" transform="translate(151.6 282.77)">Proteus mirabilis</text>
<line x1="152.3" x2="158.35" y1="315.28" y2="315.28" stroke="#000" stroke-width="1.7"/>
<rect x="158.35" y="339.96" width="24.95" height="22.65" fill="url(#hatch)"/>
<rect x="158.35" y="339.96" width="24.95" height="22.65" fill="none" stroke="#000" stroke-width="1.45" rx="0.9" stroke-linejoin="round"/>
<line x1="152.3" x2="158.35" y1="351.29" y2="351.29" stroke="#000" stroke-width="1.7"/>
<text class="yl" transform="translate(151.6 354.79)">Aspergillus fumigatus</text>
<rect x="158.35" y="375.97" width="24.95" height="22.65" fill="url(#hatch)"/>
<rect x="158.35" y="375.97" width="24.95" height="22.65" fill="none" stroke="#000" stroke-width="1.45" rx="0.9" stroke-linejoin="round"/>
<line x1="152.3" x2="158.35" y1="387.30" y2="387.30" stroke="#000" stroke-width="1.7"/>
<text class="yl" transform="translate(151.6 390.80)">Candida spp</text>
<line x1="158.35" x2="158.35" y1="3.3" y2="417.5" stroke="#000" stroke-width="1.9"/>
<line x1="157.35" x2="543.35" y1="411.1" y2="411.1" stroke="#000" stroke-width="1.8"/>
<line x1="158.35" x2="158.35" y1="411.1" y2="417.5" stroke="#000" stroke-width="1.9"/>
<text class="xl" x="158.35" y="427.7">0</text>
<line x1="171.15" x2="171.15" y1="411.1" y2="415.5" stroke="#000" stroke-width="1.8"/>
<line x1="183.95" x2="183.95" y1="411.1" y2="415.5" stroke="#000" stroke-width="1.8"/>
<line x1="196.75" x2="196.75" y1="411.1" y2="415.5" stroke="#000" stroke-width="1.8"/>
<line x1="209.55" x2="209.55" y1="411.1" y2="415.5" stroke="#000" stroke-width="1.8"/>
<line x1="222.35" x2="222.35" y1="411.1" y2="415.5" stroke="#000" stroke-width="1.8"/>
<line x1="235.15" x2="235.15" y1="411.1" y2="415.5" stroke="#000" stroke-width="1.8"/>
<line x1="247.95" x2="247.95" y1="411.1" y2="415.5" stroke="#000" stroke-width="1.8"/>
<line x1="260.75" x2="260.75" y1="411.1" y2="415.5" stroke="#000" stroke-width="1.8"/>
<line x1="273.55" x2="273.55" y1="411.1" y2="415.5" stroke="#000" stroke-width="1.8"/>
<line x1="286.35" x2="286.35" y1="411.1" y2="417.5" stroke="#000" stroke-width="1.9"/>
<text class="xl" x="286.35" y="427.7">10</text>
<line x1="299.15" x2="299.15" y1="411.1" y2="415.5" stroke="#000" stroke-width="1.8"/>
<line x1="311.95" x2="311.95" y1="411.1" y2="415.5" stroke="#000" stroke-width="1.8"/>
<line x1="324.75" x2="324.75" y1="411.1" y2="415.5" stroke="#000" stroke-width="1.8"/>
<line x1="337.55" x2="337.55" y1="411.1" y2="415.5" stroke="#000" stroke-width="1.8"/>
<line x1="350.35" x2="350.35" y1="411.1" y2="415.5" stroke="#000" stroke-width="1.8"/>
<line x1="363.15" x2="363.15" y1="411.1" y2="415.5" stroke="#000" stroke-width="1.8"/>
<line x1="375.95" x2="375.95" y1="411.1" y2="415.5" stroke="#000" stroke-width="1.8"/>
<line x1="388.75" x2="388.75" y1="411.1" y2="415.5" stroke="#000" stroke-width="1.8"/>
<line x1="401.55" x2="401.55" y1="411.1" y2="415.5" stroke="#000" stroke-width="1.8"/>
<line x1="414.35" x2="414.35" y1="411.1" y2="417.5" stroke="#000" stroke-width="1.9"/>
<text class="xl" x="414.35" y="427.7">20</text>
<line x1="427.15" x2="427.15" y1="411.1" y2="415.5" stroke="#000" stroke-width="1.8"/>
<line x1="439.95" x2="439.95" y1="411.1" y2="415.5" stroke="#000" stroke-width="1.8"/>
<line x1="452.75" x2="452.75" y1="411.1" y2="415.5" stroke="#000" stroke-width="1.8"/>
<line x1="465.55" x2="465.55" y1="411.1" y2="415.5" stroke="#000" stroke-width="1.8"/>
<line x1="478.35" x2="478.35" y1="411.1" y2="415.5" stroke="#000" stroke-width="1.8"/>
<line x1="491.15" x2="491.15" y1="411.1" y2="415.5" stroke="#000" stroke-width="1.8"/>
<line x1="503.95" x2="503.95" y1="411.1" y2="415.5" stroke="#000" stroke-width="1.8"/>
<line x1="516.75" x2="516.75" y1="411.1" y2="415.5" stroke="#000" stroke-width="1.8"/>
<line x1="529.55" x2="529.55" y1="411.1" y2="415.5" stroke="#000" stroke-width="1.8"/>
<line x1="542.35" x2="542.35" y1="411.1" y2="417.5" stroke="#000" stroke-width="1.9"/>
<text class="xl" x="542.35" y="427.7">30</text>
<text class="ti" x="350.6" y="445.6">Count</text>
<rect x="496.55" y="28.55" width="12.3" height="7.3" fill="url(#dots)" stroke="#000" stroke-width="1.3"/>
<text class="lg" x="516.0" y="36.15">CAI</text>
<rect x="496.55" y="46.8" width="12.3" height="7.45" fill="url(#hatch)" stroke="#000" stroke-width="1.3"/>
<text class="lg" x="516.0" y="54.45">HAI</text>
</svg></body></html>
